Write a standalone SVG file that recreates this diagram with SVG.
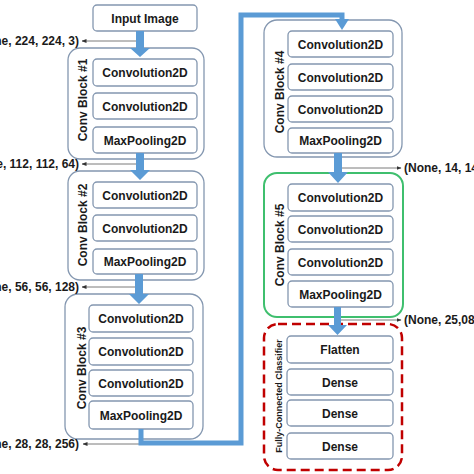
<svg xmlns="http://www.w3.org/2000/svg" width="474" height="474" viewBox="0 0 474 474">
<defs>
<style>
.bg{fill:#ffffff}
.layer{fill:#ffffff;stroke:#8497b0;stroke-width:1.3}
.block{fill:#ffffff;stroke:#8497b0;stroke-width:1.3}
.green{fill:#ffffff;stroke:#3fbf6e;stroke-width:2}
.red{fill:#ffffff;stroke:#c00000;stroke-width:2.5;stroke-dasharray:9 5}
.t{font-family:"Liberation Sans",Arial,sans-serif;font-weight:bold;font-size:12px;fill:#1a1a1a;text-anchor:middle}
.side{font-family:"Liberation Sans",Arial,sans-serif;font-weight:bold;font-size:12px;fill:#1a1a1a;text-anchor:middle}
.small{font-family:"Liberation Sans",Arial,sans-serif;font-weight:bold;font-size:9px;fill:#1a1a1a;text-anchor:middle}
.out{font-family:"Liberation Sans",Arial,sans-serif;font-weight:bold;font-size:12px;fill:#1a1a1a}
.flow{fill:#5b9bd5}
.flowline{fill:none;stroke:#5b9bd5;stroke-width:5}
.gl{stroke:#7a7a7a;stroke-width:1}
</style>
<marker id="ah" viewBox="0 0 10 10" refX="9" refY="5" markerWidth="5" markerHeight="5" orient="auto">
<path d="M0,1 L10,5 L0,9 z" fill="#333"/>
</marker>
</defs>
<rect class="bg" x="0" y="0" width="474" height="474"/>

<g id="input">
<rect class="layer" x="93" y="5" width="104" height="26" rx="4"/>
<text class="t" x="145" y="22.5">Input Image</text>
</g>

<g id="block1">
<rect class="block" x="68" y="48" width="136" height="111" rx="12"/>
<text class="side" transform="translate(86.5,100) rotate(-90)">Conv Block #1</text>
<rect class="layer" x="93" y="59" width="104" height="27" rx="4"/>
<text class="t" x="145" y="77">Convolution2D</text>
<rect class="layer" x="93" y="93" width="104" height="26" rx="4"/>
<text class="t" x="145" y="110.5">Convolution2D</text>
<rect class="layer" x="93" y="127" width="104" height="26" rx="4"/>
<text class="t" x="145" y="144.5">MaxPooling2D</text>
</g>

<g id="block2">
<rect class="block" x="68" y="171" width="136" height="109" rx="12"/>
<text class="side" transform="translate(86.5,225) rotate(-90)">Conv Block #2</text>
<rect class="layer" x="93" y="182" width="104" height="26" rx="4"/>
<text class="t" x="145" y="199.5">Convolution2D</text>
<rect class="layer" x="93" y="215" width="104" height="26" rx="4"/>
<text class="t" x="145" y="232.5">Convolution2D</text>
<rect class="layer" x="93" y="249" width="104" height="25" rx="4"/>
<text class="t" x="145" y="266">MaxPooling2D</text>
</g>

<g id="block3">
<rect class="block" x="65" y="294" width="138" height="145" rx="13"/>
<text class="side" transform="translate(86,368) rotate(-90)">Conv Block #3</text>
<rect class="layer" x="89" y="305" width="104" height="27" rx="4"/>
<text class="t" x="141" y="323">Convolution2D</text>
<rect class="layer" x="89" y="338" width="104" height="27" rx="4"/>
<text class="t" x="141" y="356">Convolution2D</text>
<rect class="layer" x="89" y="370" width="104" height="26" rx="4"/>
<text class="t" x="141" y="387.5">Convolution2D</text>
<rect class="layer" x="89" y="401" width="104" height="28" rx="4"/>
<text class="t" x="141" y="419.5">MaxPooling2D</text>
</g>

<g id="block4">
<rect class="block" x="264" y="20" width="138" height="137" rx="13"/>
<text class="side" transform="translate(284,92) rotate(-90)">Conv Block #4</text>
<rect class="layer" x="288" y="31" width="105" height="26" rx="4"/>
<text class="t" x="340.5" y="48.5">Convolution2D</text>
<rect class="layer" x="288" y="64" width="105" height="26" rx="4"/>
<text class="t" x="340.5" y="81.5">Convolution2D</text>
<rect class="layer" x="288" y="96" width="105" height="26" rx="4"/>
<text class="t" x="340.5" y="113.5">Convolution2D</text>
<rect class="layer" x="288" y="128" width="105" height="25" rx="4"/>
<text class="t" x="340.5" y="145">MaxPooling2D</text>
</g>

<g id="block5">
<rect class="green" x="264" y="173" width="139" height="144" rx="13"/>
<text class="side" transform="translate(284,245) rotate(-90)">Conv Block #5</text>
<rect class="layer" x="288" y="184" width="105" height="27" rx="4"/>
<text class="t" x="340.5" y="202">Convolution2D</text>
<rect class="layer" x="288" y="216" width="105" height="26" rx="4"/>
<text class="t" x="340.5" y="233.5">Convolution2D</text>
<rect class="layer" x="288" y="249" width="105" height="26" rx="4"/>
<text class="t" x="340.5" y="266.5">Convolution2D</text>
<rect class="layer" x="288" y="281" width="105" height="26" rx="4"/>
<text class="t" x="340.5" y="298.5">MaxPooling2D</text>
</g>

<g id="classifier">
<rect class="red" x="264" y="324" width="138" height="146" rx="14"/>
<text class="small" transform="translate(282,396) rotate(-90)">Fully-Connected Classifier</text>
<rect class="layer" x="287" y="336" width="106" height="27" rx="4"/>
<text class="t" x="340" y="354">Flatten</text>
<rect class="layer" x="287" y="369" width="106" height="26" rx="4"/>
<text class="t" x="340" y="386.5">Dense</text>
<rect class="layer" x="287" y="400" width="106" height="26" rx="4"/>
<text class="t" x="340" y="417.5">Dense</text>
<rect class="layer" x="287" y="433" width="106" height="26" rx="4"/>
<text class="t" x="340" y="450.5">Dense</text>
</g>

<g id="connectors">
<line class="gl" x1="138" y1="41" x2="82" y2="41" marker-end="url(#ah)"/>
<line class="gl" x1="138" y1="164" x2="82" y2="164" marker-end="url(#ah)"/>
<line class="gl" x1="138" y1="287" x2="82" y2="287" marker-end="url(#ah)"/>
<line class="gl" x1="141" y1="444" x2="83" y2="444" marker-end="url(#ah)"/>
<line class="gl" x1="340" y1="168" x2="401" y2="168" marker-end="url(#ah)"/>
<line class="gl" x1="340" y1="320" x2="401" y2="320" marker-end="url(#ah)"/>
<path class="flow" d="M136,31 H144 V48 H150 L140,57 L130,48 H136 Z"/>
<path class="flow" d="M136,153 H144 V170 H150 L140,180 L130,170 H136 Z"/>
<path class="flow" d="M135,274 H143 V294 H149 L139,304 L129,294 H135 Z"/>
<polyline class="flowline" points="141,429 141,443 241,443 241,15 342,15 342,20"/>
<path class="flow" d="M335,19 H349 L342,30 Z"/>
<path class="flow" d="M334,153 H342 V172 H348 L338,183 L328,172 H334 Z"/>
<path class="flow" d="M334,307 H341 V325 H347 L337.5,335 L328,325 H334 Z"/>
</g>

<g id="shapes">
<text class="out" x="79" y="45" text-anchor="end">(None, 224, 224, 3)</text>
<text class="out" x="79" y="168" text-anchor="end">(None, 112, 112, 64)</text>
<text class="out" x="79" y="291" text-anchor="end">(None, 56, 56, 128)</text>
<text class="out" x="79" y="448" text-anchor="end">(None, 28, 28, 256)</text>
<text class="out" x="404" y="172">(None, 14, 14, 512)</text>
<text class="out" x="404" y="324">(None, 25,088)</text>
</g>
</svg>
